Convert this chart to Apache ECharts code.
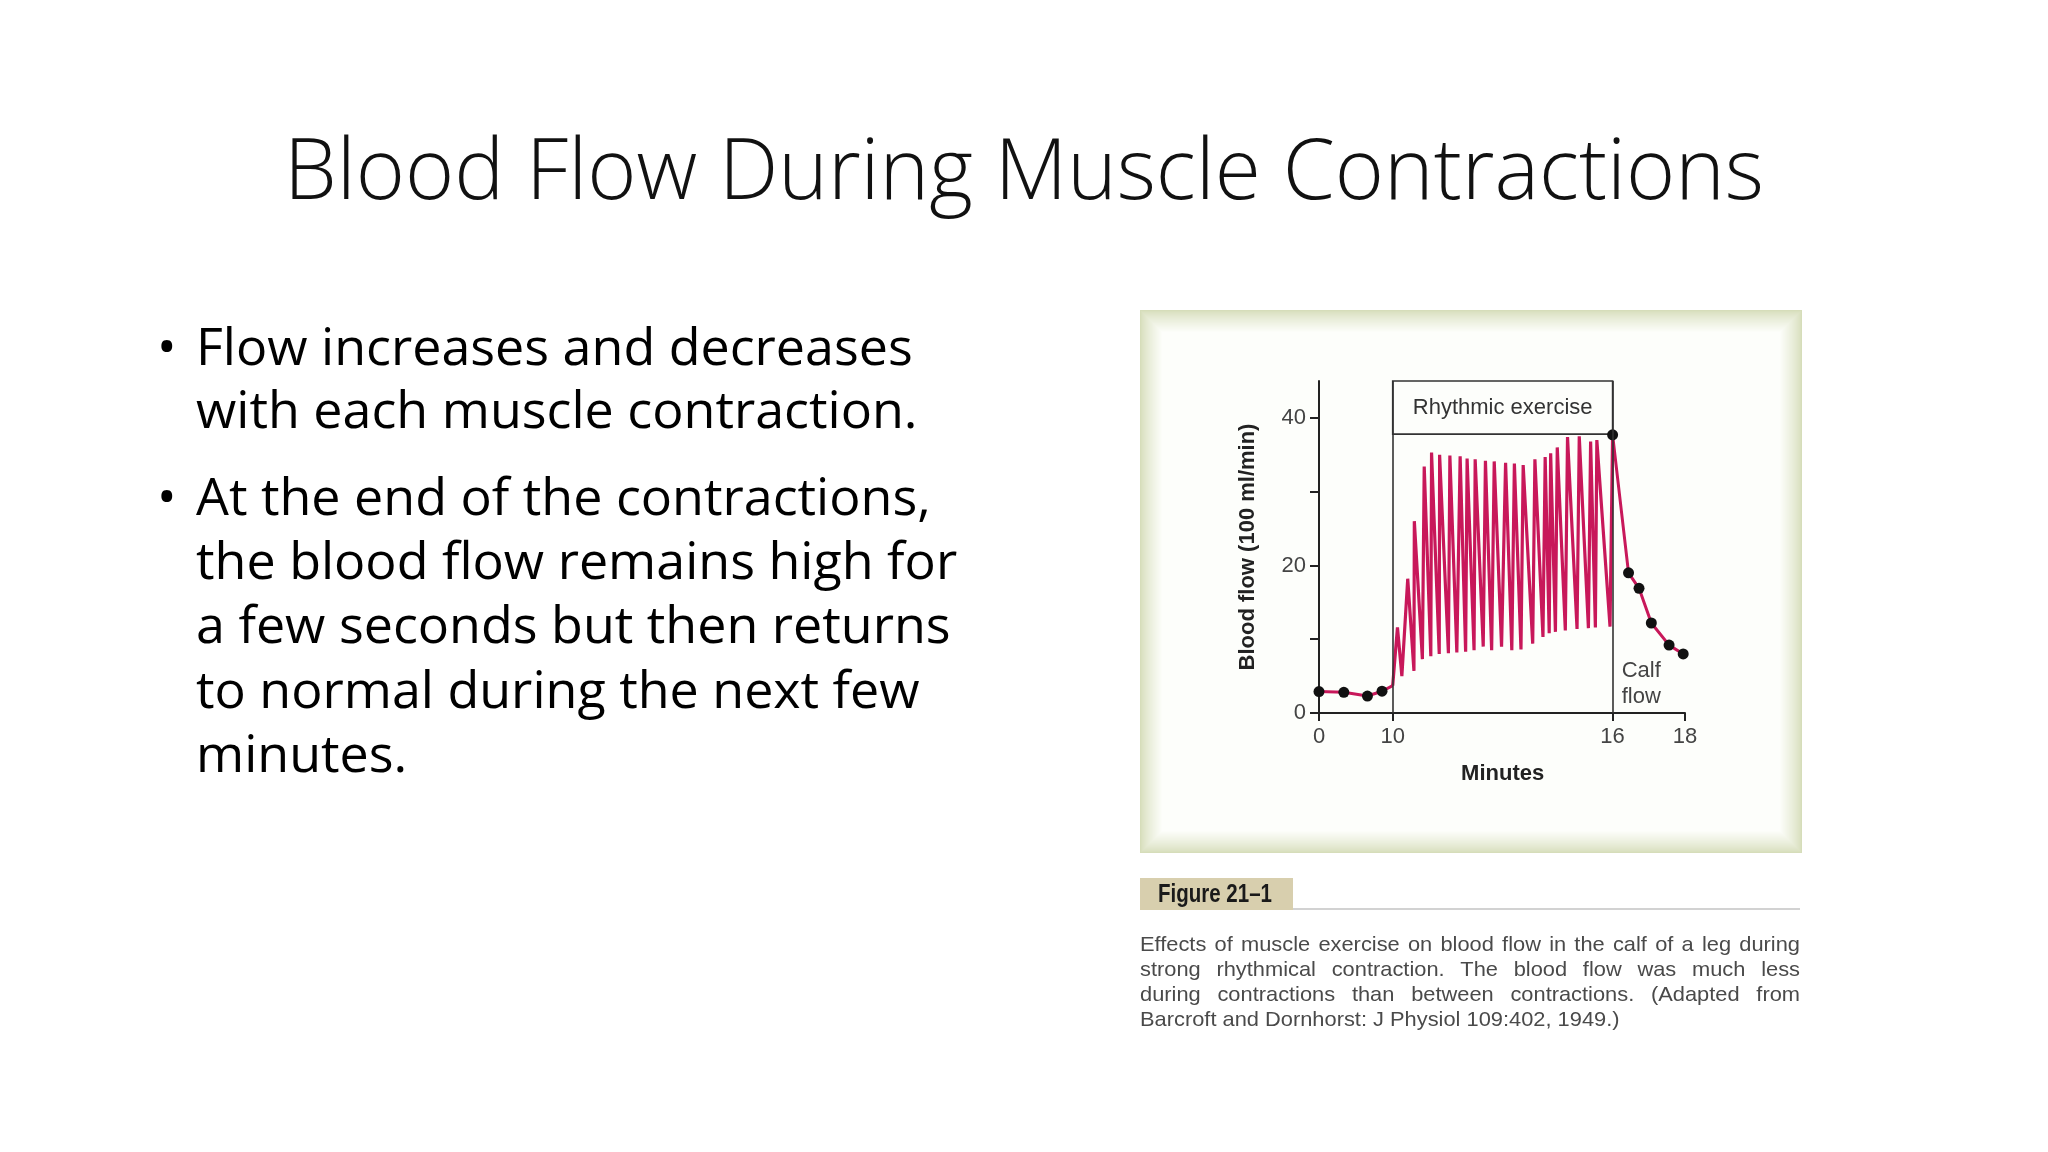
<!DOCTYPE html>
<html>
<head>
<meta charset="utf-8">
<script src="https://cdn.jsdelivr.net/npm/echarts@6.0.0/dist/echarts.min.js"></script>
<style>
html,body{margin:0;padding:0;background:#fff;}
#chart{width:2048px;height:1152px;}
</style>
</head>
<body>
<div id="chart"></div>
<script>
// ---- data ----
const titleText = 'Blood Flow During Muscle Contractions';
const bulletLines = [
  ['Flow increases and decreases', 'with each muscle contraction.'],
  ['At the end of the contractions,', 'the blood flow remains high for', 'a few seconds but then returns', 'to normal during the next few', 'minutes.']
];
const yTickValues = [0, 10, 20, 30, 40];
const yLabelValues = [0, 20, 40];
const xTicksA = [0, 10];
const xLabelsA = [0];
const xTicksB = [10, 16];
const xLabelsB = [10, 16];
const xTicksC = [18];
const xLabelsC = [18];

const baselineMinutes = [0, 3.37, 6.57, 8.55, 10];
const baselineFlow = [2.9, 2.8, 2.3, 2.95, 3.7];

const exerciseMinutes = [10, 10.13, 10.25, 10.41, 10.58, 10.59, 10.81, 10.86, 11.04, 11.06, 11.27, 11.28, 11.52, 11.56, 11.75, 11.84, 11.99, 12.03, 12.22, 12.25, 12.47, 12.53, 12.70, 12.77, 12.97, 13.08, 13.25, 13.32, 13.50, 13.56, 13.82, 13.88, 14.10, 14.16, 14.27, 14.31, 14.44, 14.49, 14.71, 14.77, 15.03, 15.09, 15.34, 15.40, 15.53, 15.57, 15.93, 16.0];
const exerciseFlow = [3.7, 11.6, 5.0, 18.2, 5.7, 26.0, 7.3, 33.4, 7.7, 35.3, 8.0, 35.0, 8.1, 34.9, 8.2, 34.8, 8.3, 34.5, 8.5, 34.4, 9.0, 34.2, 8.5, 34.1, 9.0, 33.9, 8.5, 33.8, 8.6, 33.6, 9.4, 34.4, 10.3, 34.7, 10.8, 35.2, 11.0, 36.0, 11.2, 37.4, 11.4, 37.5, 11.5, 36.8, 11.6, 37.0, 11.7, 37.7];

const recoveryMinutes = [16, 16.44, 16.73, 17.07, 17.56, 17.95];
const recoveryFlow = [37.7, 19.0, 16.9, 12.2, 9.2, 8.0];

const exerciseBox = { start: 10, end: 16, labelBottom: 37.8, top: 45 };
const figureLabel = 'Figure 21\u20131';
const captionLines = [
  'Effects of muscle exercise on blood flow in the calf of a leg during',
  'strong rhythmical contraction. The blood flow was much less',
  'during contractions than between contractions. (Adapted from',
  'Barcroft and Dornhorst: J Physiol 109:402, 1949.)'
];

// ---- build ----
const zip = (xs, ys) => xs.map((x, i) => [x, ys[i]]);
const lineColor = '#c8185a';
const axisFont = 'Liberation Sans';

const chart = echarts.init(document.getElementById('chart'), null, { renderer: 'canvas' });

// layout
const plotTop = 381, plotBottom = 713;
const gx0 = 1319, gx10 = 1392.7, gx16 = 1612.6, gx18 = 1685;
const grids = [
  { left: gx0, top: plotTop, width: gx10 - gx0, height: plotBottom - plotTop },
  { left: gx10, top: plotTop, width: gx16 - gx10, height: plotBottom - plotTop },
  { left: gx16, top: plotTop, width: gx18 - gx16, height: plotBottom - plotTop }
];

function xAxisFor(idx, min, max, ticks, labels, extra) {
  return Object.assign({
    type: 'value', gridIndex: idx, min: min, max: max,
    axisLine: { show: true, onZero: false, lineStyle: { color: '#222', width: 2 } },
    axisTick: { show: true, length: 8, customValues: ticks, lineStyle: { color: '#222', width: 2 } },
    axisLabel: { show: true, customValues: labels, color: '#444', fontSize: 22, fontFamily: axisFont, margin: 13 },
    splitLine: { show: false }
  }, extra || {});
}
function yAxisFor(idx, show) {
  return {
    type: 'value', gridIndex: idx, min: 0, max: 45,
    show: show,
    axisLine: { show: true, lineStyle: { color: '#222', width: 2 } },
    axisTick: { show: true, length: 9, customValues: yTickValues, lineStyle: { color: '#222', width: 2 } },
    axisLabel: { show: true, customValues: yLabelValues, color: '#444', fontSize: 22, fontFamily: axisFont, margin: 13 },
    splitLine: { show: false },
    name: show ? 'Blood flow (100 ml/min)' : '',
    nameLocation: 'middle', nameGap: 60, nameRotate: 90,
    nameTextStyle: { color: '#222', fontSize: 22, fontWeight: 'bold', fontFamily: axisFont }
  };
}

// panel frame: soft beige vignette
const frameGraphics = [];
const fx = 1140, fy = 310, fw = 662, fh = 543;
const edgeColor = [214, 221, 186], innerColor = [253, 254, 251];
const steps = 22;
for (let i = 0; i <= steps; i++) {
  const t = Math.pow(i / steps, 0.8);
  const c = edgeColor.map((e, k) => Math.round(e + (innerColor[k] - e) * t));
  frameGraphics.push({ type: 'rect', z: -30 + i * 0.01, silent: true,
    shape: { x: fx + i, y: fy + i, width: fw - 2 * i, height: fh - 2 * i },
    style: { fill: 'rgb(' + c.join(',') + ')' } });
}

// caption justification
const measureCtx = document.createElement('canvas').getContext('2d');
const capFontSize = 21;
const capFont = capFontSize + 'px "' + axisFont + '"';
measureCtx.font = capFont;
const capLeft = 1140, capRight = 1800;
const capScale = 1.04 * Math.min(1, (capRight - capLeft) / measureCtx.measureText(captionLines[0]).width);
const capY = [945, 970, 995, 1020];
const captionGraphics = [];
captionLines.forEach((line, li) => {
  const words = line.split(' ');
  const widths = words.map(w => measureCtx.measureText(w).width * capScale);
  const total = widths.reduce((a, b) => a + b, 0);
  const spaceW = measureCtx.measureText(' ').width * capScale;
  let gap = li === captionLines.length - 1 ? spaceW : (capRight - capLeft - total) / (words.length - 1);
  gap = Math.max(gap, spaceW * 0.5);
  let x = capLeft;
  words.forEach((w, wi) => {
    captionGraphics.push({ type: 'text', z: 5, x: x, y: capY[li], scaleX: capScale,
      style: { x: 0, y: 0, text: w, font: capFont, fill: '#4a4a4a', textVerticalAlign: 'middle' } });
    x += widths[wi] + gap;
  });
});

// bullets
const bulletFont = '52px "Open Sans"';
const bulletY = [[350, 413], [500, 564, 628, 693, 757]];
const bulletGraphics = [];
bulletLines.forEach((para, pi) => {
  bulletGraphics.push({ type: 'text', style: { x: 157, y: bulletY[pi][0], text: '\u2022', font: bulletFont, fill: '#000', textVerticalAlign: 'middle' } });
  para.forEach((ln, li) => {
    bulletGraphics.push({ type: 'text', style: { x: 196, y: bulletY[pi][li], text: ln, font: bulletFont, fill: '#000', textVerticalAlign: 'middle' } });
  });
});

const option = {
  backgroundColor: '#ffffff',
  animation: false,
  grid: grids,
  xAxis: [
    xAxisFor(0, 0, 10, xTicksA, xLabelsA),
    xAxisFor(1, 10, 16, xTicksB, xLabelsB, {
      name: 'Minutes', nameLocation: 'middle', nameGap: 50,
      nameTextStyle: { color: '#222', fontSize: 22, fontWeight: 'bold', fontFamily: axisFont }
    }),
    xAxisFor(2, 16, 18, xTicksC, xLabelsC)
  ],
  yAxis: [yAxisFor(0, true), yAxisFor(1, false), yAxisFor(2, false)],
  graphic: [
    ...frameGraphics,
    { type: 'text', style: { x: 1024, y: 175, text: titleText, font: '300 84px "Open Sans"', fill: '#111', textAlign: 'center', textVerticalAlign: 'middle' } },
    ...bulletGraphics,
    { type: 'rect', z: 4, shape: { x: 1140, y: 878, width: 153, height: 32 }, style: { fill: '#d8cfae' } },
    { type: 'text', z: 5, x: 1158, y: 895, scaleX: 0.82, style: { x: 0, y: 0, text: figureLabel, font: 'bold 25px "Liberation Sans"', fill: '#1a1a1a', textVerticalAlign: 'middle' } },
    { type: 'line', z: 4, shape: { x1: 1293, y1: 909, x2: 1800, y2: 909 }, style: { stroke: '#d2d2d2', lineWidth: 2 } },
    ...captionGraphics
  ],
  series: [
    {
      type: 'line', xAxisIndex: 0, yAxisIndex: 0, clip: false,
      data: zip(baselineMinutes, baselineFlow).map((p, i) => i === baselineMinutes.length - 1 ? { value: p, symbol: 'none' } : p),
      symbol: 'circle', symbolSize: 11, showAllSymbol: true,
      itemStyle: { color: '#111' },
      lineStyle: { color: lineColor, width: 3 }, z: 3
    },
    {
      type: 'line', xAxisIndex: 1, yAxisIndex: 1, clip: false,
      data: zip(exerciseMinutes, exerciseFlow),
      symbol: 'none',
      lineStyle: { color: lineColor, width: 3.2 }, z: 3,
      markArea: {
        silent: true,
        itemStyle: { color: 'rgba(255,255,255,0)', borderColor: '#333', borderWidth: 1.6 },
        label: { show: true, position: 'inside', color: '#333', fontSize: 22, fontFamily: axisFont },
        data: [[
          { name: 'Rhythmic exercise', coord: [exerciseBox.start, exerciseBox.labelBottom] },
          { coord: [exerciseBox.end, exerciseBox.top] }
        ]]
      },
      markLine: {
        silent: true, symbol: 'none',
        label: { show: false },
        lineStyle: { color: '#333', width: 1.6, type: 'solid' },
        data: [
          [{ coord: [exerciseBox.start, 0] }, { coord: [exerciseBox.start, exerciseBox.top] }],
          [{ coord: [exerciseBox.end, 0] }, { coord: [exerciseBox.end, exerciseBox.top] }]
        ]
      }
    },
    {
      type: 'line', xAxisIndex: 2, yAxisIndex: 2, clip: false,
      data: zip(recoveryMinutes, recoveryFlow),
      symbol: 'circle', symbolSize: 11, showAllSymbol: true,
      itemStyle: { color: '#111' },
      lineStyle: { color: lineColor, width: 3 }, z: 4,
      markPoint: {
        silent: true, symbol: 'circle', symbolSize: 0,
        label: { show: true, position: 'right', distance: 0, formatter: 'Calf\nflow', color: '#444', fontSize: 22, lineHeight: 26, fontFamily: axisFont, align: 'left' },
        data: [{ coord: [16.25, 4.0] }]
      }
    }
  ]
};
chart.setOption(option);
</script>
</body>
</html>
